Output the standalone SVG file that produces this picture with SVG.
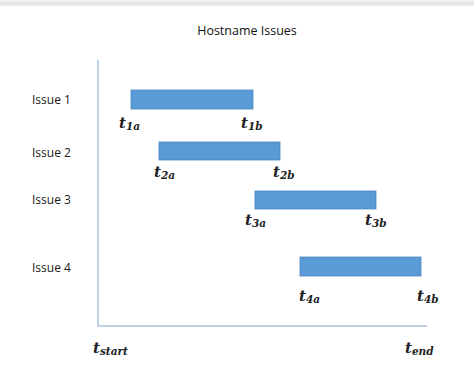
<svg xmlns="http://www.w3.org/2000/svg" width="474" height="387" viewBox="0 0 474 387">
<defs>
<linearGradient id="topg" x1="0" y1="0" x2="0" y2="1">
<stop offset="0" stop-color="#f4f4f4"/>
<stop offset="0.6" stop-color="#e2e2e2"/>
<stop offset="1" stop-color="#ffffff"/>
</linearGradient>
</defs>
<style>
.lbl{font-family:"Open Sans","Liberation Sans",sans-serif;font-size:12px;fill:#1a1a1a}
.title{font-family:"Open Sans","Liberation Sans",sans-serif;font-size:12.5px;fill:#111}
.bar{fill:#5b9bd5;stroke:#4a86c0;stroke-width:0.8}
.m{font-family:"DejaVu Serif","Liberation Serif",serif;font-style:italic;font-weight:bold;font-size:15px;fill:#222}
.s{font-size:10.5px}
.axis{stroke:#a8c4e0;stroke-width:1.5;fill:none}
</style>
<rect x="0" y="0" width="474" height="387" fill="#ffffff"/>
<rect x="0" y="0" width="474" height="7" fill="url(#topg)"/>
<text class="title" x="247" y="35" text-anchor="middle">Hostname Issues</text>
<g id="connectors">
<path class="axis" d="M98 60 V326 H427"/>
</g>
<g id="issue1">
<text class="lbl" x="32" y="104">Issue 1</text>
<rect class="bar" x="131" y="90" width="122" height="19"/>
<text class="m" x="119" y="128">t<tspan class="s" dy="2">1a</tspan></text>
<text class="m" x="241" y="128">t<tspan class="s" dy="2">1b</tspan></text>
</g>
<g id="issue2">
<text class="lbl" x="32" y="157">Issue 2</text>
<rect class="bar" x="159" y="142" width="121" height="18"/>
<text class="m" x="154" y="177">t<tspan class="s" dy="2">2a</tspan></text>
<text class="m" x="273" y="177">t<tspan class="s" dy="2">2b</tspan></text>
</g>
<g id="issue3">
<text class="lbl" x="32" y="204">Issue 3</text>
<rect class="bar" x="255" y="191" width="121" height="18"/>
<text class="m" x="245" y="225">t<tspan class="s" dy="2">3a</tspan></text>
<text class="m" x="365" y="225">t<tspan class="s" dy="2">3b</tspan></text>
</g>
<g id="issue4">
<text class="lbl" x="32" y="272">Issue 4</text>
<rect class="bar" x="300" y="257" width="121" height="19"/>
<text class="m" x="299" y="301">t<tspan class="s" dy="2">4a</tspan></text>
<text class="m" x="417" y="301">t<tspan class="s" dy="2">4b</tspan></text>
</g>
<g id="axis-labels">
<text class="m" x="93" y="353">t<tspan class="s" dy="2">start</tspan></text>
<text class="m" x="405" y="353">t<tspan class="s" dy="2">end</tspan></text>
</g>
</svg>
